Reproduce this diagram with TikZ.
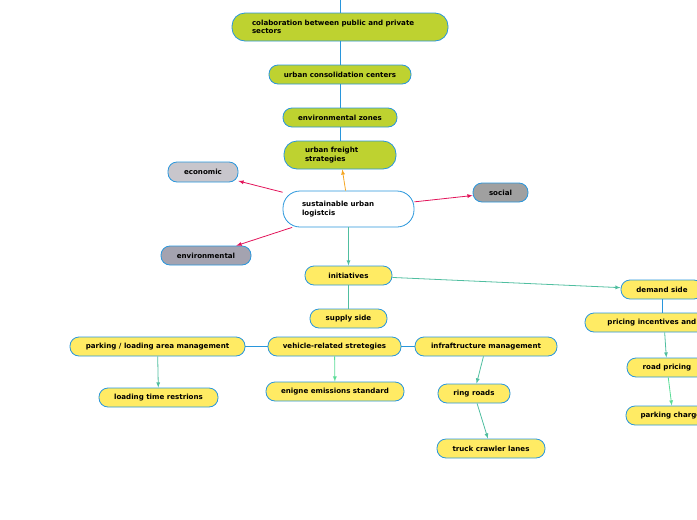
\documentclass[tikz,border=0pt]{standalone}
\usepackage{fontspec}
\setsansfont{DejaVu Sans}
\definecolor{lineblue}{RGB}{40,150,220}
\definecolor{crim}{RGB}{226,20,90}
\definecolor{orng}{RGB}{245,166,35}
\definecolor{tealc}{RGB}{80,190,160}
\definecolor{mint}{RGB}{90,220,150}
\definecolor{olive}{RGB}{190,210,48}
\definecolor{yell}{RGB}{255,235,100}
\definecolor{greyA}{RGB}{200,198,204}
\definecolor{greyB}{RGB}{160,160,160}
\definecolor{greyC}{RGB}{164,163,176}

\begin{document}
\begin{tikzpicture}[x=1pt,y=-1pt,>=latex,
    box/.style={draw=lineblue, line width=0.8pt, rounded corners=9pt, minimum height=19pt, inner sep=0pt,
        font=\sffamily\bfseries\fontsize{7.1}{8.6}\selectfont},
    strat/.style={box, fill=olive},
    init/.style={box, fill=yell},
    link/.style={lineblue, line width=0.8pt}]
    \clip (0,0) rectangle (697,520);

    % strategies column
    \coordinate (top) at (340,-5);
    \node[strat, rounded corners=13pt, minimum width=216pt, minimum height=28pt, text width=176pt, inner xsep=20pt, align=left] (collab) at (340,27) {colaboration between public and private\\sectors};
    \node[strat, minimum width=142pt] (ucc) at (340,74.5) {urban consolidation centers};
    \node[strat, minimum width=114pt] (envzones) at (340,117.5) {environmental zones};
    \node[strat, rounded corners=13pt, minimum width=112pt, minimum height=28pt, text width=70pt, inner xsep=21pt, align=left] (ufs) at (340,155) {urban freight\\strategies};

    % main topic
    \node[box, fill=white, rounded corners=17pt, minimum width=131pt, minimum height=36pt, text width=93pt, inner xsep=19pt, align=left] (sul) at (348.5,209) {sustainable urban\\logistcis};
    \node[box, fill=greyA, minimum width=70pt, minimum height=20pt] (economic) at (203,172) {economic};
    \node[box, fill=greyB, minimum width=55pt] (social) at (500.5,192.5) {social};
    \node[box, fill=greyC, minimum width=90pt] (environmental) at (206,255.5) {environmental};

    % initiatives
    \node[init, minimum width=87pt] (initiatives) at (348.5,275.5) {initiatives};
    \node[init, minimum width=77pt] (supply) at (348.5,318.5) {supply side};
    \node[init, minimum width=175pt] (parking) at (157.5,346.5) {parking / loading area management};
    \node[init, minimum width=133pt] (vehicle) at (334.5,346.5) {vehicle-related stretegies};
    \node[init, minimum width=142pt] (infra) at (486,346.5) {infraftructure management};
    \node[init, minimum width=119pt] (loadtime) at (158.5,397.5) {loading time restrions};
    \node[init, minimum width=138pt] (engine) at (335,391.5) {enigne emissions standard};
    \node[init, minimum width=72pt] (ring) at (474,393.5) {ring roads};
    \node[init, minimum width=108pt] (truck) at (491,448.5) {truck crawler lanes};
    \node[init, minimum width=82pt] (demand) at (662,289.5) {demand side};
    \node[init, minimum width=158pt] (pricing) at (664,322.5) {pricing incentives and taxes};
    \node[init, minimum width=80pt] (road) at (667,367.5) {road pricing};
    \node[init, minimum width=94pt] (charges) at (673,415.5) {parking charges};

    % connectors
    \draw[link] (top) -- (collab);
    \draw[link] (collab) -- (ucc);
    \draw[link] (ucc) -- (envzones);
    \draw[link] (envzones) -- (ufs);
    \draw[->, orng, line width=0.8pt] (sul) -- (ufs);
    \draw[->, crim, line width=0.8pt] (sul) -- (economic);
    \draw[->, crim, line width=0.8pt] (sul) -- (environmental);
    \draw[->, crim, line width=0.8pt] (sul) -- (social);
    \draw[->, tealc, line width=0.8pt] (sul) -- (initiatives);
    \draw[->, tealc, line width=0.8pt] (initiatives) -- (demand);
    \draw[tealc, line width=0.8pt] (initiatives) -- (supply);
    \draw[link] (parking) -- (vehicle);
    \draw[link] (vehicle) -- (infra);
    \draw[->, tealc, line width=0.8pt] (parking) -- (loadtime);
    \draw[->, mint, line width=0.8pt] (vehicle) -- (engine);
    \draw[->, tealc, line width=0.8pt] (infra) -- (ring);
    \draw[->, tealc, line width=0.8pt] (ring) -- (truck);
    \draw[link] (demand.south) -- (demand.south |- pricing.north);
    \draw[->, tealc, line width=0.8pt] (pricing) -- (road);
    \draw[->, mint, line width=0.8pt] (road) -- (charges);
\end{tikzpicture}
\end{document}
